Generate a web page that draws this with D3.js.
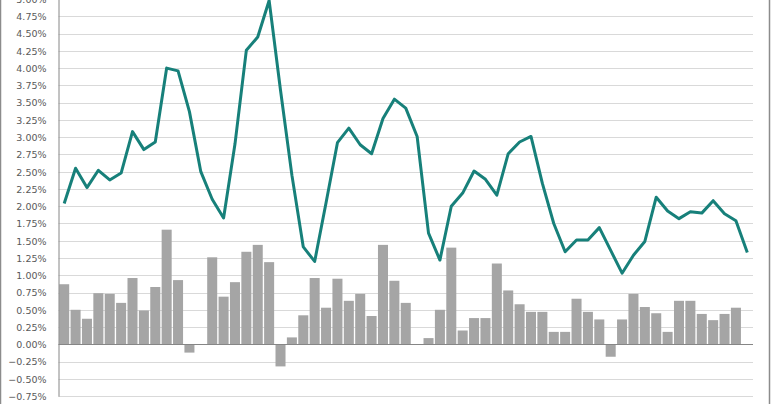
<!DOCTYPE html>
<html>
<head>
<meta charset="utf-8">
<script src="https://cdn.jsdelivr.net/npm/d3@7"></script>
<style>
  html, body { margin: 0; padding: 0; background: #fff; }
  svg { display: block; }
  .tick text { font-family: "DejaVu Sans", sans-serif; font-size: 9.5px; fill: #595959; }
</style>
</head>
<body>
<script>
(function (){

    //bar series (% values), null where no bar is drawn
    var barValues = [0.87, 0.50, 0.37, 0.74, 0.73, 0.60, 0.96, 0.49, 0.83, 1.66,
                     0.93, -0.12, null, 1.26, 0.69, 0.90, 1.34, 1.44, 1.19, -0.32,
                     0.10, 0.42, 0.96, 0.53, 0.95, 0.63, 0.73, 0.41, 1.44, 0.92,
                     0.60, null, 0.09, 0.50, 1.40, 0.20, 0.38, 0.38, 1.17, 0.78,
                     0.58, 0.47, 0.47, 0.18, 0.18, 0.66, 0.47, 0.36, -0.18, 0.36,
                     0.73, 0.54, 0.45, 0.18, 0.63, 0.63, 0.44, 0.35, 0.44, 0.53,
                     null];

    //line series (% values)
    var lineValues = [2.04, 2.55, 2.27, 2.52, 2.38, 2.48, 3.08, 2.82, 2.93, 4.00,
                      3.96, 3.37, 2.50, 2.10, 1.83, 2.90, 4.26, 4.45, 4.98, 3.68,
                      2.45, 1.41, 1.20, 2.05, 2.92, 3.13, 2.89, 2.76, 3.27, 3.55,
                      3.42, 3.01, 1.61, 1.22, 2.00, 2.19, 2.51, 2.39, 2.16, 2.76,
                      2.93, 3.01, 2.33, 1.75, 1.34, 1.51, 1.51, 1.69, 1.36, 1.03,
                      1.29, 1.49, 2.13, 1.93, 1.82, 1.92, 1.90, 2.08, 1.89, 1.79,
                      1.33];

    //categories (no labels shown on the chart)
    var categories = lineValues.map(function(d, i){ return i + 1; });

    //y tick values
    var yTicks = d3.range(-0.75, 5.001, 0.25);

    var width = 771, height = 404;
    var plotLeft = 58.5, plotRight = 753,
        plotTop = -0.95, plotBottom = 396.1;

    var svg = d3.select("body")
        .append("svg")
        .attr("width", width)
        .attr("height", height);

    var x = d3.scaleBand()
        .domain(categories)
        .range([plotLeft, plotRight])
        .paddingInner(0.12)
        .paddingOuter(0.06);

    var y = d3.scaleLinear()
        .domain([-0.75, 5.0])
        .range([plotBottom, plotTop]);

    //chart area border (left and right edges visible)
    svg.append("line")
        .attr("x1", 0.5).attr("x2", 0.5)
        .attr("y1", 0).attr("y2", height)
        .style("stroke", "#8c8c8c").style("stroke-width", 1.5);
    svg.append("line")
        .attr("x1", 769.5).attr("x2", 769.5)
        .attr("y1", 0).attr("y2", height)
        .style("stroke", "#8c8c8c").style("stroke-width", 1.5);

    //gridlines
    svg.append("g")
        .selectAll("line")
        .data(yTicks)
        .enter()
        .append("line")
        .attr("x1", plotLeft)
        .attr("x2", plotRight)
        .attr("y1", function(d){ return Math.round(y(d)) + 0.5; })
        .attr("y2", function(d){ return Math.round(y(d)) + 0.5; })
        .style("stroke", "#d9d9d9")
        .style("stroke-width", 1);

    //bars
    svg.append("g")
        .selectAll("rect")
        .data(barValues.map(function(v, i){ return {c: categories[i], v: v}; })
            .filter(function(d){ return d.v !== null; }))
        .enter()
        .append("rect")
        .attr("x", function(d){ return x(d.c); })
        .attr("width", x.bandwidth())
        .attr("y", function(d){ return y(Math.max(0, d.v)); })
        .attr("height", function(d){ return Math.abs(y(d.v) - y(0)); })
        .style("fill", "#a5a5a5");

    //zero axis line
    svg.append("line")
        .attr("x1", plotLeft)
        .attr("x2", plotRight)
        .attr("y1", Math.round(y(0)) + 0.5)
        .attr("y2", Math.round(y(0)) + 0.5)
        .style("stroke", "#868686")
        .style("stroke-width", 1);

    //line series
    var line = d3.line()
        .x(function(d, i){ return x(categories[i]) + x.bandwidth() / 2; })
        .y(function(d){ return y(d); });

    svg.append("path")
        .datum(lineValues)
        .attr("d", line)
        .style("fill", "none")
        .style("stroke", "#17807a")
        .style("stroke-width", 3)
        .style("stroke-linejoin", "round");

    //y axis
    var yAxis = d3.axisLeft(y)
        .tickValues(yTicks)
        .tickSize(0)
        .tickPadding(12)
        .tickFormat(function(d){ return d3.format(".2f")(d) + "%"; });

    var gy = svg.append("g")
        .attr("transform", "translate(" + plotLeft + ",0)")
        .call(yAxis);
    gy.select(".domain").style("stroke", "#868686");
    gy.selectAll(".tick text").attr("dy", "0.35em");

})();
</script>
</body>
</html>
